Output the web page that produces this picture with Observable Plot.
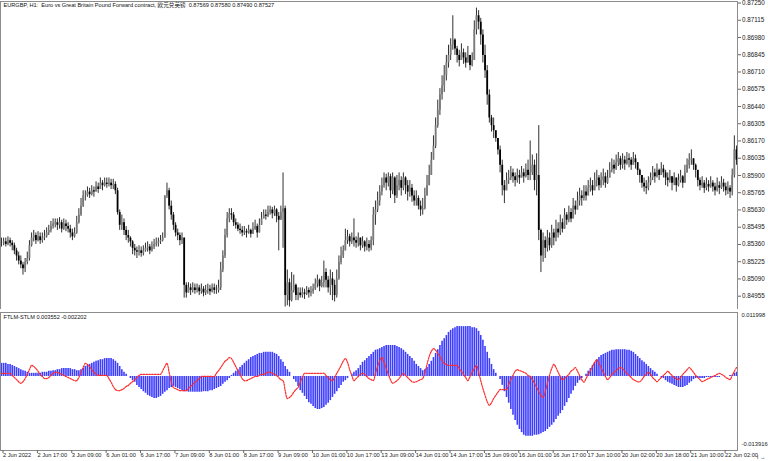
<!DOCTYPE html>
<html><head><meta charset="utf-8">
<script src="https://cdn.jsdelivr.net/npm/d3@7"></script>
<script src="https://cdn.jsdelivr.net/npm/@observablehq/plot@0.6"></script>
<style>
html,body{margin:0;padding:0;background:#fff;}
#wrap{position:relative;width:768px;height:461px;overflow:hidden;background:#fff;}
#top{position:absolute;left:0;top:0;}
#bot{position:absolute;left:0;top:309px;}
svg{display:block;}
</style></head><body>
<div id="wrap"><div id="top"></div><div id="bot"></div></div>
<script>
// ---- price pane (EURGBP H1), one value per bar ----
const close=[.8537,.8538,.8536,.8539,.8537,.8535,.8531,.8527,.8523,.8520,
.8517,.8522,.8525,.8535,.8541,.8543,.8539,.8542,.8539,.8541,
.8542,.8545,.8547,.8550,.8552,.8553,.8551,.8553,.8548,.8552,
.8550,.8548,.8545,.8542,.8545,.8553,.8559,.8566,.8574,.8574,
.8577,.8575,.8578,.8577,.8581,.8579,.8584,.8582,.8584,.8583,
.8584,.8582,.8583,.8578,.8561,.8551,.8553,.8547,.8543,.8541,
.8538,.8533,.8531,.8530,.8531,.8529,.8531,.8533,.8534,.8531,
.8534,.8536,.8537,.8538,.8539,.8541,.8574,.8578,.8566,.8559,
.8551,.8545,.8543,.8539,.8541,.8504,.8498,.8502,.8500,.8502,
.8500,.8502,.8499,.8501,.8498,.8500,.8501,.8499,.8502,.8500,
.8500,.8502,.8516,.8527,.8543,.8556,.8560,.8559,.8553,.8551,
.8548,.8547,.8545,.8546,.8545,.8547,.8544,.8548,.8550,.8545,
.8551,.8556,.8559,.8558,.8561,.8563,.8560,.8563,.8558,.8555,
.8561,.8564,.8496,.8506,.8492,.8500,.8504,.8496,.8498,.8496,
.8498,.8497,.8500,.8498,.8499,.8501,.8505,.8508,.8503,.8506,
.8514,.8508,.8502,.8509,.8504,.8496,.8509,.8522,.8527,.8531,
.8539,.8542,.8538,.8541,.8539,.8537,.8541,.8535,.8538,.8534,
.8536,.8533,.8539,.8559,.8563,.8570,.8577,.8582,.8588,.8584,
.8589,.8578,.8588,.8574,.8582,.8586,.8580,.8588,.8582,.8577,
.8580,.8574,.8570,.8572,.8566,.8563,.8564,.8574,.8582,.8590,
.8602,.8613,.8629,.8641,.8653,.8660,.8668,.8678,.8684,.8692,
.8696,.8689,.8684,.8680,.8686,.8682,.8678,.8684,.8676,.8680,
.8704,.8715,.8710,.8700,.8684,.8672,.8653,.8635,.8629,.8625,
.8619,.8610,.8598,.8582,.8578,.8586,.8588,.8592,.8589,.8586,
.8590,.8588,.8592,.8589,.8594,.8590,.8592,.8598,.8586,.8590,
.8547,.8527,.8539,.8533,.8541,.8535,.8545,.8541,.8548,.8545,
.8553,.8548,.8559,.8555,.8561,.8556,.8566,.8563,.8570,.8574,
.8572,.8577,.8574,.8580,.8582,.8578,.8586,.8588,.8582,.8586,
.8589,.8584,.8588,.8594,.8598,.8595,.8600,.8603,.8598,.8602,
.8599,.8603,.8602,.8598,.8603,.8600,.8594,.8590,.8584,.8581,
.8580,.8584,.8588,.8592,.8589,.8594,.8590,.8595,.8592,.8588,
.8586,.8589,.8584,.8588,.8582,.8586,.8589,.8584,.8592,.8598,
.8602,.8603,.8598,.8594,.8586,.8582,.8584,.8580,.8583,.8581,
.8584,.8581,.8578,.8582,.8580,.8584,.8581,.8578,.8580,.8577,
.8590,.8610,.8602];
const high=[.8541,.8541,.8541,.8542,.8541,.8539,.8537,.8533,.8530,.8527,
.8522,.8525,.8530,.8539,.8545,.8547,.8545,.8546,.8545,.8545,
.8547,.8549,.8551,.8554,.8556,.8556,.8556,.8557,.8555,.8556,
.8555,.8553,.8551,.8548,.8549,.8558,.8564,.8572,.8578,.8578,
.8581,.8580,.8582,.8581,.8585,.8584,.8588,.8586,.8588,.8588,
.8588,.8587,.8587,.8585,.8580,.8563,.8559,.8556,.8550,.8547,
.8542,.8539,.8536,.8534,.8535,.8534,.8535,.8537,.8538,.8536,
.8538,.8540,.8541,.8541,.8543,.8545,.8570,.8584,.8580,.8570,
.8561,.8553,.8548,.8545,.8545,.8541,.8506,.8506,.8505,.8506,
.8505,.8505,.8504,.8505,.8503,.8504,.8505,.8504,.8505,.8505,
.8504,.8508,.8522,.8531,.8548,.8561,.8564,.8564,.8561,.8556,
.8553,.8552,.8550,.8550,.8548,.8551,.8548,.8553,.8555,.8552,
.8556,.8561,.8563,.8563,.8566,.8566,.8565,.8566,.8564,.8561,
.8566,.8592,.8566,.8516,.8509,.8514,.8512,.8505,.8502,.8502,
.8502,.8501,.8503,.8502,.8503,.8505,.8509,.8512,.8509,.8511,
.8523,.8517,.8511,.8516,.8514,.8508,.8516,.8527,.8534,.8535,
.8548,.8547,.8544,.8545,.8556,.8542,.8545,.8541,.8542,.8539,
.8541,.8539,.8542,.8565,.8570,.8577,.8582,.8588,.8592,.8591,
.8592,.8591,.8592,.8589,.8590,.8592,.8589,.8592,.8589,.8586,
.8586,.8583,.8578,.8578,.8574,.8570,.8572,.8580,.8590,.8598,
.8608,.8621,.8635,.8649,.8658,.8668,.8676,.8684,.8692,.8697,
.8715,.8697,.8691,.8688,.8693,.8689,.8686,.8691,.8684,.8686,
.8711,.8721,.8719,.8713,.8704,.8692,.8676,.8657,.8637,.8635,
.8625,.8619,.8613,.8602,.8586,.8592,.8594,.8597,.8595,.8592,
.8595,.8594,.8597,.8595,.8599,.8602,.8617,.8606,.8602,.8607,
.8629,.8548,.8545,.8542,.8547,.8545,.8551,.8548,.8555,.8553,
.8559,.8556,.8564,.8561,.8566,.8564,.8572,.8570,.8577,.8580,
.8578,.8582,.8582,.8586,.8588,.8586,.8592,.8594,.8590,.8592,
.8595,.8592,.8594,.8600,.8603,.8602,.8606,.8608,.8605,.8607,
.8605,.8608,.8607,.8604,.8608,.8606,.8600,.8595,.8590,.8588,
.8586,.8589,.8592,.8597,.8595,.8599,.8595,.8600,.8598,.8594,
.8592,.8594,.8589,.8592,.8588,.8591,.8594,.8590,.8598,.8603,
.8607,.8610,.8603,.8599,.8592,.8588,.8589,.8586,.8588,.8586,
.8589,.8586,.8584,.8588,.8585,.8589,.8587,.8584,.8585,.8582,
.8595,.8621,.8613];
const low=[.8534,.8535,.8534,.8535,.8534,.8531,.8528,.8523,.8520,.8517,
.8512,.8514,.8520,.8523,.8534,.8538,.8536,.8538,.8536,.8537,
.8539,.8541,.8543,.8545,.8548,.8549,.8547,.8548,.8545,.8547,
.8546,.8545,.8541,.8539,.8541,.8544,.8552,.8558,.8565,.8570,
.8573,.8572,.8574,.8573,.8577,.8576,.8580,.8578,.8581,.8580,
.8581,.8579,.8579,.8575,.8559,.8547,.8547,.8543,.8539,.8537,
.8534,.8528,.8527,.8525,.8527,.8526,.8527,.8530,.8530,.8528,
.8530,.8532,.8534,.8534,.8536,.8538,.8541,.8572,.8563,.8555,
.8547,.8542,.8539,.8535,.8536,.8494,.8494,.8498,.8496,.8498,
.8497,.8498,.8496,.8497,.8495,.8496,.8497,.8496,.8498,.8497,
.8497,.8498,.8500,.8514,.8525,.8541,.8553,.8555,.8550,.8548,
.8546,.8544,.8542,.8543,.8541,.8544,.8541,.8545,.8547,.8541,
.8548,.8552,.8556,.8555,.8557,.8559,.8556,.8558,.8553,.8531,
.8555,.8533,.8487,.8488,.8487,.8491,.8498,.8492,.8492,.8494,
.8494,.8493,.8496,.8494,.8495,.8497,.8500,.8502,.8499,.8502,
.8502,.8502,.8498,.8496,.8492,.8491,.8494,.8508,.8520,.8525,
.8531,.8536,.8534,.8536,.8534,.8533,.8534,.8531,.8533,.8530,
.8531,.8530,.8531,.8535,.8551,.8561,.8566,.8574,.8580,.8578,
.8581,.8572,.8575,.8568,.8572,.8578,.8574,.8578,.8575,.8570,
.8573,.8569,.8566,.8566,.8563,.8558,.8559,.8563,.8577,.8582,
.8595,.8602,.8611,.8627,.8637,.8649,.8655,.8664,.8674,.8680,
.8688,.8684,.8678,.8675,.8680,.8677,.8674,.8678,.8672,.8675,
.8684,.8700,.8704,.8692,.8678,.8666,.8645,.8631,.8624,.8619,
.8616,.8606,.8592,.8574,.8568,.8578,.8583,.8586,.8584,.8581,
.8584,.8583,.8588,.8584,.8588,.8586,.8586,.8590,.8578,.8574,
.8539,.8514,.8522,.8525,.8530,.8531,.8533,.8535,.8538,.8541,
.8543,.8545,.8548,.8551,.8553,.8553,.8559,.8559,.8564,.8566,
.8566,.8570,.8570,.8574,.8577,.8574,.8580,.8581,.8578,.8580,
.8582,.8580,.8583,.8588,.8592,.8591,.8594,.8597,.8594,.8595,
.8594,.8598,.8596,.8594,.8598,.8595,.8590,.8584,.8580,.8577,
.8575,.8578,.8582,.8586,.8584,.8588,.8586,.8590,.8588,.8582,
.8581,.8584,.8578,.8582,.8577,.8581,.8584,.8580,.8586,.8592,
.8595,.8598,.8594,.8588,.8581,.8578,.8580,.8576,.8578,.8577,
.8580,.8577,.8574,.8577,.8575,.8579,.8577,.8574,.8575,.8572,
.8574,.8588,.8598];
// ---- FTLM-STLM pane: histogram and signal (red) ----
const hist=[.0025,.0025,.0025,.0023,.0023,
.0021,.0019,.0017,.0015,.0013,.0011,.0010,
.0008,.0006,.0006,.0006,.0006,.0006,.0006,.0008,.0008,.0008,.0010,
.0010,.0011,.0011,.0013,.0013,.0015,.0015,.0015,.0015,.0015,.0013,.0013,.0011,.0011,
.0013,.0015,.0019,.0021,.0023,.0025,.0027,.0029,.0030,.0032,.0032,.0034,.0034,.0034,
.0034,.0032,.0029,.0025,.0019,.0013,.0008,.0004,0,
-.0004,-.0008,-.0011,-.0017,-.0021,-.0025,-.0029,-.0032,-.0036,-.0038,-.0040,-.0042,
-.0042,-.0040,-.0038,-.0034,-.0030,-.0027,-.0023,-.0021,-.0019,
-.0021,-.0023,-.0025,-.0027,-.0029,-.0029,-.0030,-.0030,-.0030,-.0030,-.0030,-.0030,-.0030,-.0029,-.0029,-.0029,-.0027,-.0027,-.0025,-.0023,-.0021,-.0019,-.0015,-.0011,-.0008,-.0004,
.0002,.0006,.0010,.0013,.0017,.0021,.0025,.0029,.0032,.0036,
.0038,.0040,.0042,.0044,.0044,.0046,.0046,.0046,.0046,.0046,.0044,.0042,.0038,.0032,.0027,
.0019,.0013,.0008,0,
-.0006,-.0011,-.0019,-.0027,-.0032,-.0038,-.0044,-.0050,-.0053,-.0057,-.0061,-.0063,
-.0063,-.0061,-.0059,-.0055,-.0051,-.0046,-.0040,-.0034,-.0029,-.0023,-.0017,-.0011,-.0008,-.0004,0,
.0004,.0008,.0011,.0015,.0021,.0027,.0030,.0034,.0038,.0042,.0046,.0050,.0051,.0053,.0055,.0057,.0059,.0059,.0059,.0059,
.0059,.0057,.0055,.0053,.0050,.0046,.0042,.0038,.0034,.0029,.0023,.0019,.0015,.0011,
.0013,.0017,.0023,.0029,.0036,.0044,.0051,.0059,.0067,.0072,.0078,.0084,.0088,.0091,.0093,.0095,.0095,.0095,.0095,.0095,.0095,.0095,.0093,.0093,.0091,.0086,.0078,.0069,.0057,.0046,.0034,.0023,.0013,.0006,0,
-.0006,-.0017,-.0029,-.0040,-.0051,-.0063,-.0074,-.0084,-.0093,-.0101,-.0107,-.0112,
-.0114,-.0114,-.0114,-.0114,-.0112,-.0112,-.0111,-.0109,-.0107,-.0105,-.0101,
-.0097,-.0093,-.0088,-.0082,-.0076,-.0071,-.0065,-.0057,-.0050,-.0042,-.0034,-.0027,-.0019,-.0013,-.0008,-.0004,0,
.0004,.0010,.0015,.0021,.0027,.0032,.0036,.0040,.0042,.0044,.0046,.0048,
.0050,.0050,.0051,.0051,.0051,.0051,.0051,.0050,.0050,.0048,.0046,
.0042,.0038,.0034,.0030,.0027,.0023,.0019,.0015,.0011,.0008,.0004,0,
-.0002,-.0004,-.0008,-.0011,-.0013,-.0015,-.0017,-.0019,-.0021,-.0021,-.0021,-.0019,-.0017,-.0013,-.0010,-.0006,
-.0004,-.0004,-.0004,-.0004,-.0004,-.0002,-.0002,-.0002,-.0002,-.0002,-.0002,-.0002,0,0,0,0,.0002,.0002,
.0006,.0008];
const signal=[.0006,.0006,.0006,.0006,.0006,
.0002,-.0002,-.0006,-.0010,-.0013,
-.0010,-.0004,.0004,.0013,.0021,
.0019,.0015,.0010,.0004,0,-.0004,
-.0004,-.0002,.0002,.0006,.0008,
.0008,.0006,.0004,.0002,0,-.0002,
-.0004,-.0006,-.0008,-.0008,
-.0002,.0008,.0017,.0025,
.0023,.0019,.0013,.0008,.0004,.0002,
.0002,.0002,.0002,.0002,
-.0004,-.0011,-.0019,-.0025,-.0027,
-.0027,-.0025,-.0023,-.0019,-.0017,
-.0013,-.0010,-.0006,-.0002,.0002,.0004,
.0004,.0004,.0004,.0004,.0004,.0004,.0004,.0004,.0004,
.0011,.0019,.0025,
.0008,-.0010,-.0021,
-.0023,-.0025,-.0027,-.0027,-.0027,-.0027,
-.0023,-.0019,-.0015,-.0011,-.0008,-.0004,0,
0,0,0,0,0,0,
.0006,.0011,.0017,.0023,.0029,.0032,.0036,
.0034,.0027,.0019,.0011,.0004,-.0004,-.0008,
-.0008,-.0006,-.0004,-.0002,0,0,.0002,
.0004,.0004,.0006,.0008,.0008,
.0006,.0004,.0002,-.0002,-.0006,-.0008,
-.0027,-.0042,
-.0040,-.0036,-.0030,-.0025,-.0021,
-.0011,-.0002,.0006,
.0006,.0006,.0006,.0006,.0006,.0006,.0006,.0006,.0006,
.0002,-.0002,-.0006,-.0008,
-.0002,.0006,.0013,.0021,.0029,.0034,
.0027,.0013,.0002,-.0008,
-.0004,0,.0004,.0006,
.0004,0,-.0004,-.0006,-.0008,
.0006,.0019,.0030,.0036,
.0027,.0015,.0004,-.0006,-.0013,
-.0011,-.0008,-.0004,.0002,.0006,
.0002,-.0002,-.0006,-.0010,-.0011,
-.0010,-.0008,-.0006,-.0004,
.0008,.0023,.0038,.0048,.0053,
.0050,.0044,.0038,.0030,.0025,
.0023,.0021,.0021,.0021,.0021,.0021,
.0015,.0010,.0004,-.0002,-.0008,
0,.0008,.0015,.0021,
.0008,-.0008,-.0023,-.0036,-.0048,-.0055,
-.0050,-.0042,-.0036,-.0030,
-.0025,-.0025,-.0025,-.0025,
-.0015,-.0006,.0002,.0010,.0013,
.0011,.0010,.0008,.0006,.0002,0,
-.0006,-.0013,-.0021,-.0029,-.0036,-.0040,
-.0029,-.0013,.0002,.0015,.0023,
.0017,.0008,0,-.0006,
-.0004,0,.0004,.0010,.0013,.0017,
.0010,.0002,-.0006,-.0011,
-.0004,.0004,.0011,.0019,.0027,.0032,
.0025,.0017,.0008,0,-.0006,
-.0002,.0004,.0008,.0011,.0015,.0017,
.0015,.0010,.0006,.0002,-.0002,-.0006,
-.0008,-.0010,-.0010,
-.0006,0,.0004,.0008,
.0004,-.0002,-.0006,-.0010,
-.0006,-.0002,.0002,.0006,.0010,
.0006,.0002,-.0002,-.0004,-.0006,
-.0002,.0004,.0008,.0013,.0017,
.0013,.0008,.0002,-.0002,-.0006,-.0010,
-.0008,-.0006,-.0004,-.0002,0,.0002,.0004,.0006,
.0004,.0002,-.0002,-.0004,-.0006,
.0002,.0010,.0017];
// ---- axes ----
const yTicks=[0.87250,0.87115,0.86980,0.86845,0.86710,0.86575,0.86440,0.86305,0.86170,0.86035,0.85900,0.85765,0.85630,0.85495,0.85360,0.85225,0.85090,0.84955];
const indMax=0.011998, indMin=-0.013916;
const xTickBars=[0,16,32,48,64,80,96,112,128,144,160,176,192,208,224,240,256,272,288,304,320,336];
const xLabels=["2 Jun 2022","2 Jun 17:00","3 Jun 09:00","6 Jun 01:00","6 Jun 17:00","7 Jun 09:00","8 Jun 01:00","8 Jun 17:00","9 Jun 09:00","10 Jun 01:00","10 Jun 17:00","13 Jun 09:00","14 Jun 01:00","14 Jun 17:00","15 Jun 09:00","16 Jun 01:00","16 Jun 17:00","17 Jun 10:00","20 Jun 02:00","20 Jun 18:00","21 Jun 10:00","22 Jun 02:00"];
const title="EURGBP, H1:  Euro vs Great Britain Pound Forward contract, 欧元兑英镑  0.87569 0.87580 0.87490 0.87527";
const indTitle="FTLM-STLM 0.003552 -0.002202";

const FONT='"Liberation Sans", Arial, "Noto Sans CJK SC", sans-serif';
const labelOf=new Map(xTickBars.map((b,k)=>[b,xLabels[k]]));

const bars=close.map((c,i)=>{
  const o=i>0?close[i-1]:c;
  return {i,o,c,hi:Math.max(high[i],o,c),lo:Math.min(low[i],o,c),col:c>=o?"#7a7a7a":"#000000"};
});
const ind=hist.map((h,i)=>({i,h,s:signal[i]}));

const topPlot=Plot.plot({
  width:768,height:311,marginLeft:0,marginRight:31,marginTop:1,marginBottom:1,
  x:{domain:[0,342],range:[1,736],axis:null},
  y:{domain:[0.84955,0.87250],range:[295.7,2.5],axis:null},
  style:{background:"#fff",fontFamily:FONT,color:"#000"},
  marks:[
    Plot.ruleX(bars,{x:"i",y1:"lo",y2:"hi",stroke:"#1a1a1a",strokeWidth:0.9}),
    Plot.ruleX(bars,{x:"i",y1:"o",y2:"c",stroke:"col",strokeWidth:1.8}),
    Plot.frame({stroke:"#8c8c8c"}),
    Plot.axisY(yTicks,{anchor:"right",tickSize:3,tickPadding:1.5,tickFormat:d3.format(".5f"),fontSize:6.3,stroke:"#666",fill:"#222"}),
    Plot.text([title],{text:d=>d,frameAnchor:"top-left",dx:3,dy:2,lineAnchor:"top",textAnchor:"start",fontSize:5.6,fill:"#111"})
  ]
});
document.getElementById("top").appendChild(topPlot);

const botPlot=Plot.plot({
  width:768,height:152,marginLeft:0,marginRight:31,marginTop:3,marginBottom:11,
  x:{domain:[0,342],range:[1,736],axis:null},
  y:{domain:[indMin,indMax],range:[140,4],axis:null},
  style:{background:"#fff",fontFamily:FONT,color:"#000"},
  marks:[
    Plot.ruleX(ind,{x:"i",y1:0,y2:"h",stroke:"#3d3dff",strokeWidth:1.6}),
    Plot.line(ind,{x:"i",y:"s",stroke:"#ff2a2a",strokeWidth:1.2,strokeDasharray:"1.6,1.2",curve:"catmull-rom"}),
    Plot.frame({stroke:"#8c8c8c"}),
    Plot.axisX(xTickBars,{anchor:"bottom",tickSize:3,tickPadding:-1,dx:1.5,textAnchor:"start",tickFormat:d=>labelOf.get(d),fontSize:5.7,stroke:"#666",fill:"#222"}),
    Plot.text([indMax],{y:d=>d,text:d=>d.toFixed(6),frameAnchor:"right",dx:4,dy:2,textAnchor:"start",fontSize:5.8,fill:"#222"}),
    Plot.text([indMin],{y:d=>d,text:d=>d.toFixed(6),frameAnchor:"right",dx:4,dy:-5,textAnchor:"start",fontSize:5.8,fill:"#222"}),
    Plot.text([indTitle],{text:d=>d,frameAnchor:"top-left",dx:3,dy:3,lineAnchor:"top",textAnchor:"start",fontSize:5.6,fill:"#111"})
  ]
});
document.getElementById("bot").appendChild(botPlot);
</script>
</body></html>
